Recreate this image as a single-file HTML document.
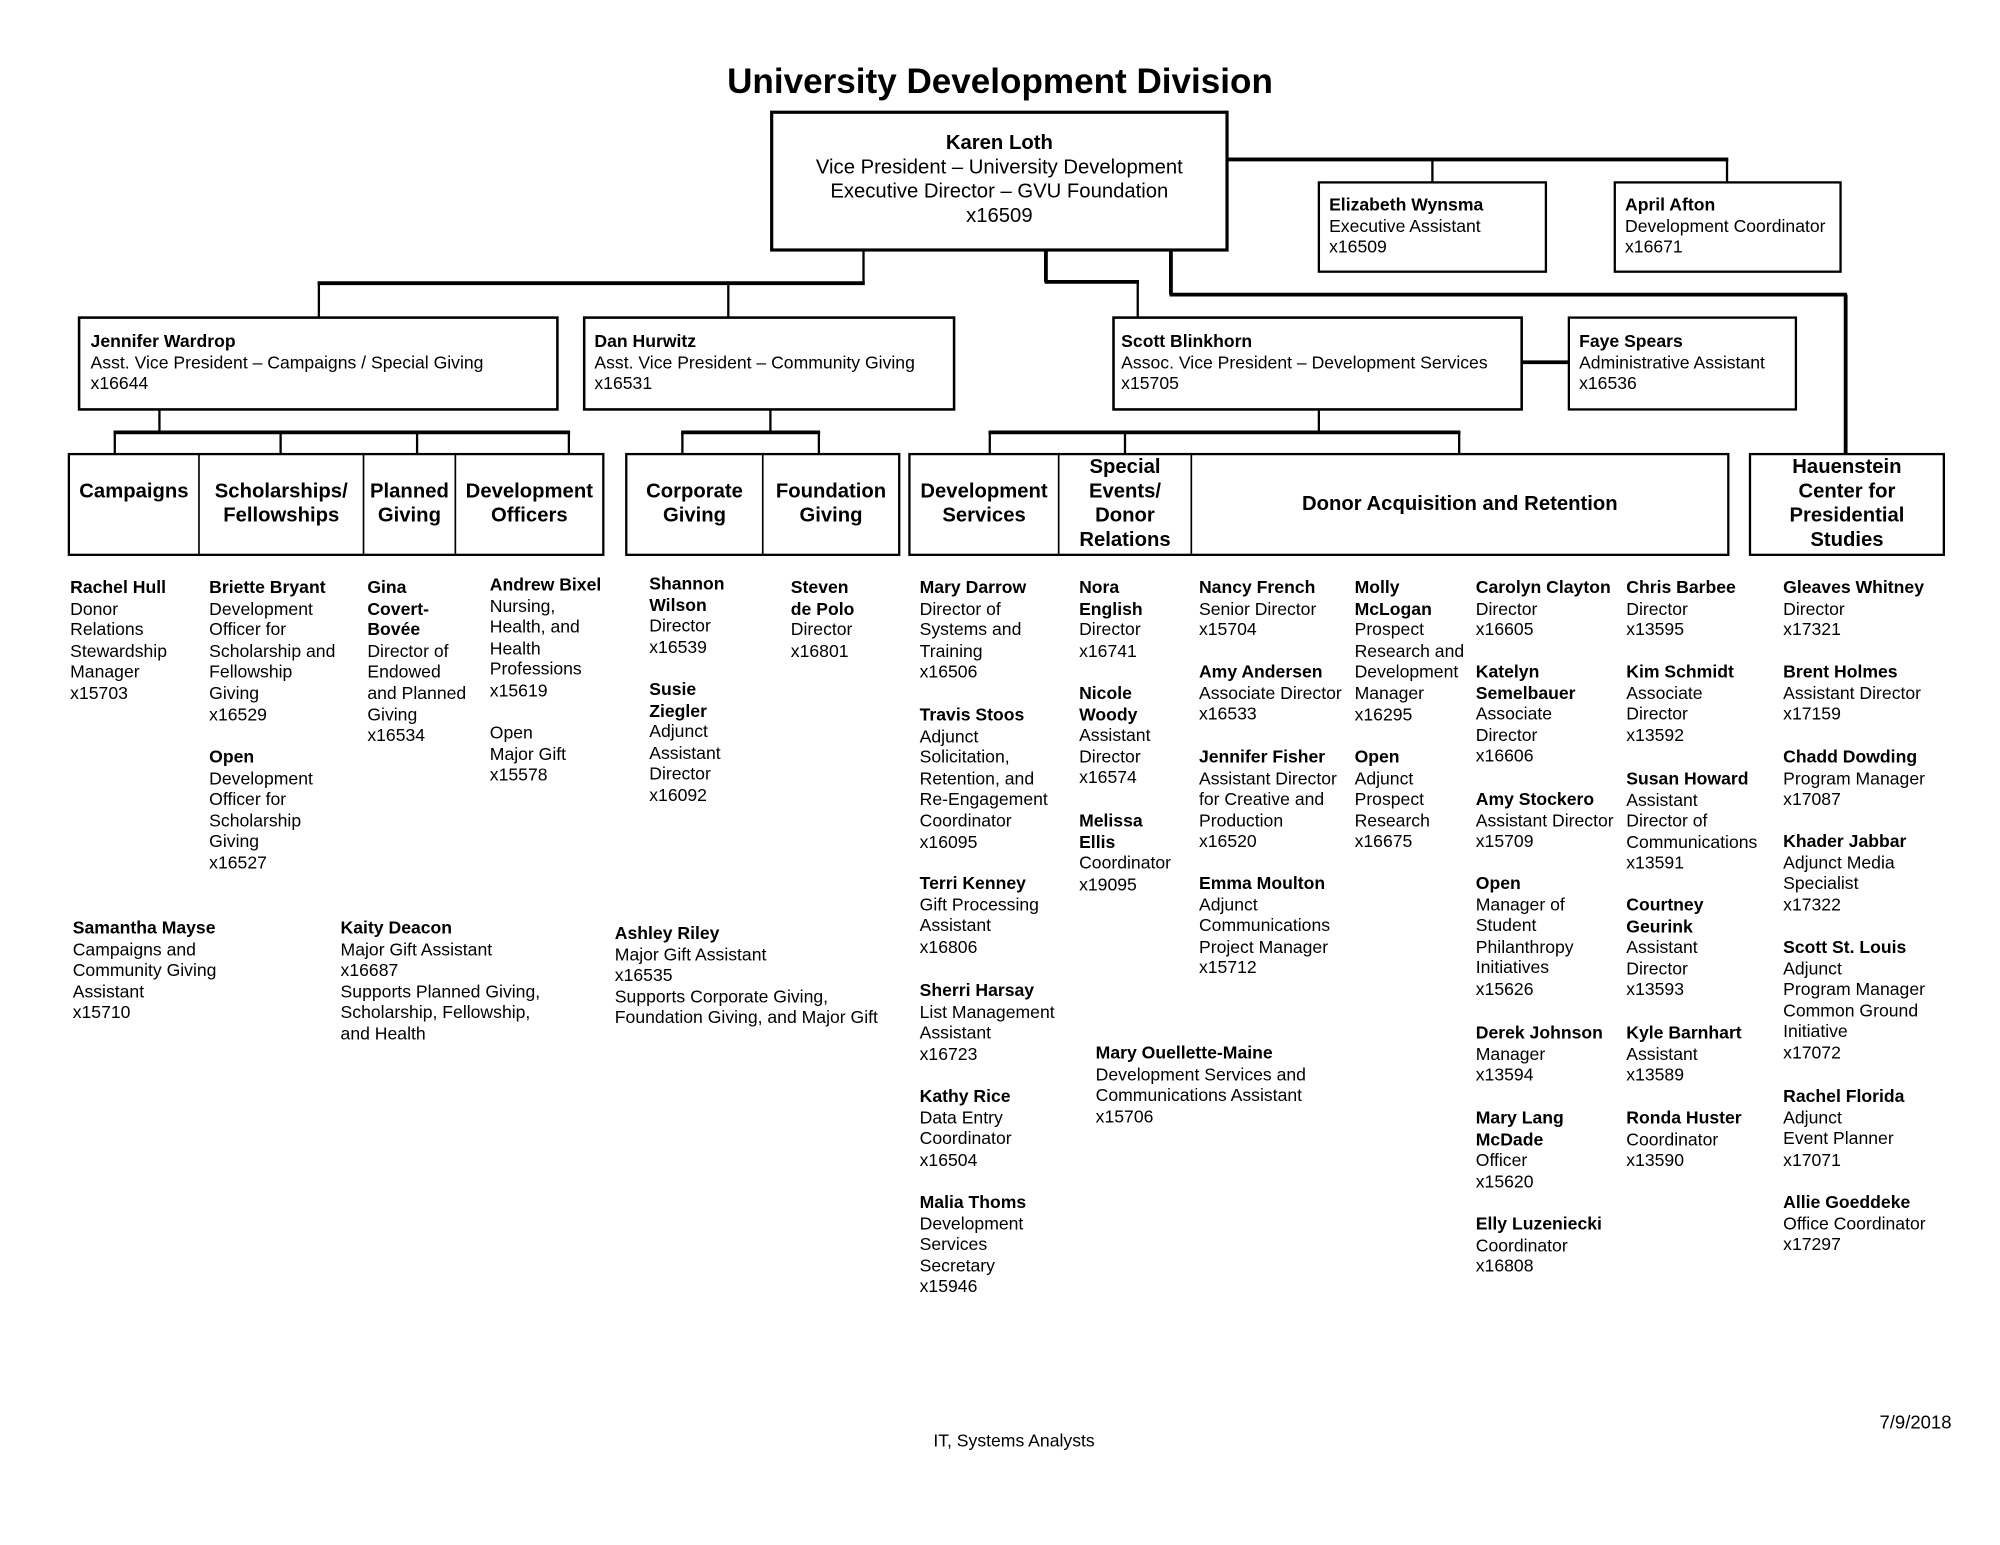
<!DOCTYPE html>
<html><head><meta charset="utf-8"><style>
html,body{margin:0;padding:0;background:#fff;}
body{width:2000px;height:1545px;overflow:hidden;position:relative;}
#s{position:absolute;left:0;top:0;width:1568px;height:1211px;transform:scale(1.2755);transform-origin:0 0;font-family:"Liberation Sans",Arial,sans-serif;color:#000;}
.t{position:absolute;font-size:13.8px;line-height:16.6px;white-space:nowrap;}
.h{position:absolute;font-size:15.9px;line-height:19px;font-weight:bold;text-align:center;white-space:nowrap;}
svg{position:absolute;left:0;top:0;}
</style></head><body><div id="s">
<svg width="1568" height="1211" viewBox="0 0 1568 1211">
<g fill="none" stroke="#000">
<rect x="605" y="88" width="357" height="108" stroke-width="2.5"/>
<rect x="1034" y="143" width="178" height="70" stroke-width="1.8"/>
<rect x="1266" y="143" width="177" height="70" stroke-width="1.8"/>
<rect x="62" y="249" width="375" height="72" stroke-width="2"/>
<rect x="458" y="249" width="290" height="72" stroke-width="2"/>
<rect x="873" y="249" width="320" height="72" stroke-width="2"/>
<rect x="1230" y="249" width="178" height="72" stroke-width="1.8"/>
<rect x="54" y="356" width="419" height="79" stroke-width="1.8"/>
<rect x="491" y="356" width="214" height="79" stroke-width="1.8"/>
<rect x="713" y="356" width="642" height="79" stroke-width="1.8"/>
<rect x="1372" y="356" width="152" height="79" stroke-width="1.8"/>
<g stroke-width="1.3">
<line x1="156" y1="356" x2="156" y2="435"/><line x1="285" y1="356" x2="285" y2="435"/><line x1="357" y1="356" x2="357" y2="435"/>
<line x1="598" y1="356" x2="598" y2="435"/>
<line x1="830" y1="356" x2="830" y2="435"/><line x1="934" y1="356" x2="934" y2="435"/>
</g>
<g stroke-width="3">
<line x1="962" y1="125" x2="1355" y2="125"/>
<line x1="249" y1="222" x2="678" y2="222"/>
<line x1="819" y1="221" x2="893" y2="221"/>
<line x1="917" y1="231" x2="1448" y2="231"/>
<line x1="1193" y1="284" x2="1230" y2="284"/>
<line x1="89" y1="339" x2="447" y2="339"/>
<line x1="534" y1="339" x2="643" y2="339"/>
<line x1="775" y1="339" x2="1145" y2="339"/>
<line x1="1447" y1="231" x2="1447" y2="356"/>
<line x1="820" y1="196" x2="820" y2="221"/>
<line x1="918" y1="196" x2="918" y2="231"/>
</g>
<g stroke-width="1.8">
<line x1="1123" y1="125" x2="1123" y2="143"/>
<line x1="1354" y1="125" x2="1354" y2="143"/>
<line x1="677" y1="196" x2="677" y2="222"/>
<line x1="250" y1="222" x2="250" y2="249"/>
<line x1="571" y1="222" x2="571" y2="249"/>
<line x1="892" y1="221" x2="892" y2="249"/>
<line x1="125" y1="321" x2="125" y2="339"/>
<line x1="604" y1="321" x2="604" y2="339"/>
<line x1="1034" y1="321" x2="1034" y2="339"/>
<line x1="90" y1="339" x2="90" y2="356"/><line x1="220" y1="339" x2="220" y2="356"/><line x1="327" y1="339" x2="327" y2="356"/><line x1="446" y1="339" x2="446" y2="356"/>
<line x1="535" y1="339" x2="535" y2="356"/><line x1="642" y1="339" x2="642" y2="356"/>
<line x1="776" y1="339" x2="776" y2="356"/><line x1="882" y1="339" x2="882" y2="356"/><line x1="1144" y1="339" x2="1144" y2="356"/>
</g>
</g>
</svg>

<div style="position:absolute;left:484px;width:600px;top:46px;text-align:center;font-size:27.5px;font-weight:bold;line-height:36px;">University Development Division</div>

<div style="position:absolute;left:605px;width:357px;top:103px;text-align:center;font-size:15.9px;line-height:19px;"><b>Karen Loth</b><br>Vice President – University Development<br>Executive Director – GVU Foundation<br>x16509</div>

<div class="t" style="left:1042px;top:153px"><b>Elizabeth Wynsma</b><br>Executive Assistant<br>x16509</div>
<div class="t" style="left:1274px;top:153px"><b>April Afton</b><br>Development Coordinator<br>x16671</div>
<div class="t" style="left:71px;top:260px"><b>Jennifer Wardrop</b><br>Asst. Vice President – Campaigns / Special Giving<br>x16644</div>
<div class="t" style="left:466px;top:260px"><b>Dan Hurwitz</b><br>Asst. Vice President – Community Giving<br>x16531</div>
<div class="t" style="left:879px;top:260px"><b>Scott Blinkhorn</b><br>Assoc. Vice President – Development Services<br>x15705</div>
<div class="t" style="left:1238px;top:260px"><b>Faye Spears</b><br>Administrative Assistant<br>x16536</div>

<div class="h" style="left:54px;width:102px;top:376px">Campaigns</div>
<div class="h" style="left:156px;width:129px;top:376px">Scholarships/<br>Fellowships</div>
<div class="h" style="left:285px;width:72px;top:376px">Planned<br>Giving</div>
<div class="h" style="left:357px;width:116px;top:376px">Development<br>Officers</div>
<div class="h" style="left:491px;width:107px;top:376px">Corporate<br>Giving</div>
<div class="h" style="left:598px;width:107px;top:376px">Foundation<br>Giving</div>
<div class="h" style="left:713px;width:117px;top:376px">Development<br>Services</div>
<div class="h" style="left:830px;width:104px;top:357px">Special<br>Events/<br>Donor<br>Relations</div>
<div class="h" style="left:934px;width:421px;top:386px">Donor Acquisition and Retention</div>
<div class="h" style="left:1372px;width:152px;top:357px">Hauenstein<br>Center for<br>Presidential<br>Studies</div>

<div class="t" style="left:55px;top:453px"><b>Rachel Hull</b><br>Donor<br>Relations<br>Stewardship<br>Manager<br>x15703</div>
<div class="t" style="left:164px;top:453px"><b>Briette Bryant</b><br>Development<br>Officer for<br>Scholarship and<br>Fellowship<br>Giving<br>x16529</div>
<div class="t" style="left:164px;top:586px"><b>Open</b><br>Development<br>Officer for<br>Scholarship<br>Giving<br>x16527</div>
<div class="t" style="left:288px;top:453px"><b>Gina<br>Covert-<br>Bovée</b><br>Director of<br>Endowed<br>and Planned<br>Giving<br>x16534</div>
<div class="t" style="left:384px;top:451px"><b>Andrew Bixel</b><br>Nursing,<br>Health, and<br>Health<br>Professions<br>x15619</div>
<div class="t" style="left:384px;top:567px">Open<br>Major Gift<br>x15578</div>
<div class="t" style="left:509px;top:450px"><b>Shannon<br>Wilson</b><br>Director<br>x16539</div>
<div class="t" style="left:509px;top:533px"><b>Susie<br>Ziegler</b><br>Adjunct<br>Assistant<br>Director<br>x16092</div>
<div class="t" style="left:620px;top:453px"><b>Steven<br>de Polo</b><br>Director<br>x16801</div>

<div class="t" style="left:721px;top:453px"><b>Mary Darrow</b><br>Director of<br>Systems and<br>Training<br>x16506</div>
<div class="t" style="left:721px;top:553px"><b>Travis Stoos</b><br>Adjunct<br>Solicitation,<br>Retention, and<br>Re-Engagement<br>Coordinator<br>x16095</div>
<div class="t" style="left:721px;top:685px"><b>Terri Kenney</b><br>Gift Processing<br>Assistant<br>x16806</div>
<div class="t" style="left:721px;top:769px"><b>Sherri Harsay</b><br>List Management<br>Assistant<br>x16723</div>
<div class="t" style="left:721px;top:852px"><b>Kathy Rice</b><br>Data Entry<br>Coordinator<br>x16504</div>
<div class="t" style="left:721px;top:935px"><b>Malia Thoms</b><br>Development<br>Services<br>Secretary<br>x15946</div>

<div class="t" style="left:846px;top:453px"><b>Nora<br>English</b><br>Director<br>x16741</div>
<div class="t" style="left:846px;top:536px"><b>Nicole<br>Woody</b><br>Assistant<br>Director<br>x16574</div>
<div class="t" style="left:846px;top:636px"><b>Melissa<br>Ellis</b><br>Coordinator<br>x19095</div>
<div class="t" style="left:859px;top:818px"><b>Mary Ouellette-Maine</b><br>Development Services and<br>Communications Assistant<br>x15706</div>

<div class="t" style="left:940px;top:453px"><b>Nancy French</b><br>Senior Director<br>x15704</div>
<div class="t" style="left:940px;top:519px"><b>Amy Andersen</b><br>Associate Director<br>x16533</div>
<div class="t" style="left:940px;top:586px"><b>Jennifer Fisher</b><br>Assistant Director<br>for Creative and<br>Production<br>x16520</div>
<div class="t" style="left:940px;top:685px"><b>Emma Moulton</b><br>Adjunct<br>Communications<br>Project Manager<br>x15712</div>

<div class="t" style="left:1062px;top:453px"><b>Molly<br>McLogan</b><br>Prospect<br>Research and<br>Development<br>Manager<br>x16295</div>
<div class="t" style="left:1062px;top:586px"><b>Open</b><br>Adjunct<br>Prospect<br>Research<br>x16675</div>

<div class="t" style="left:1157px;top:453px"><b>Carolyn Clayton</b><br>Director<br>x16605</div>
<div class="t" style="left:1157px;top:519px"><b>Katelyn<br>Semelbauer</b><br>Associate<br>Director<br>x16606</div>
<div class="t" style="left:1157px;top:619px"><b>Amy Stockero</b><br>Assistant Director<br>x15709</div>
<div class="t" style="left:1157px;top:685px"><b>Open</b><br>Manager of<br>Student<br>Philanthropy<br>Initiatives<br>x15626</div>
<div class="t" style="left:1157px;top:802px"><b>Derek Johnson</b><br>Manager<br>x13594</div>
<div class="t" style="left:1157px;top:869px"><b>Mary Lang<br>McDade</b><br>Officer<br>x15620</div>
<div class="t" style="left:1157px;top:952px"><b>Elly Luzeniecki</b><br>Coordinator<br>x16808</div>

<div class="t" style="left:1275px;top:453px"><b>Chris Barbee</b><br>Director<br>x13595</div>
<div class="t" style="left:1275px;top:519px"><b>Kim Schmidt</b><br>Associate<br>Director<br>x13592</div>
<div class="t" style="left:1275px;top:603px"><b>Susan Howard</b><br>Assistant<br>Director of<br>Communications<br>x13591</div>
<div class="t" style="left:1275px;top:702px"><b>Courtney<br>Geurink</b><br>Assistant<br>Director<br>x13593</div>
<div class="t" style="left:1275px;top:802px"><b>Kyle Barnhart</b><br>Assistant<br>x13589</div>
<div class="t" style="left:1275px;top:869px"><b>Ronda Huster</b><br>Coordinator<br>x13590</div>

<div class="t" style="left:1398px;top:453px"><b>Gleaves Whitney</b><br>Director<br>x17321</div>
<div class="t" style="left:1398px;top:519px"><b>Brent Holmes</b><br>Assistant Director<br>x17159</div>
<div class="t" style="left:1398px;top:586px"><b>Chadd Dowding</b><br>Program Manager<br>x17087</div>
<div class="t" style="left:1398px;top:652px"><b>Khader Jabbar</b><br>Adjunct Media<br>Specialist<br>x17322</div>
<div class="t" style="left:1398px;top:735px"><b>Scott St. Louis</b><br>Adjunct<br>Program Manager<br>Common Ground<br>Initiative<br>x17072</div>
<div class="t" style="left:1398px;top:852px"><b>Rachel Florida</b><br>Adjunct<br>Event Planner<br>x17071</div>
<div class="t" style="left:1398px;top:935px"><b>Allie Goeddeke</b><br>Office Coordinator<br>x17297</div>

<div class="t" style="left:57px;top:720px"><b>Samantha Mayse</b><br>Campaigns and<br>Community Giving<br>Assistant<br>x15710</div>
<div class="t" style="left:267px;top:720px"><b>Kaity Deacon</b><br>Major Gift Assistant<br>x16687<br>Supports Planned Giving,<br>Scholarship, Fellowship,<br>and Health</div>
<div class="t" style="left:482px;top:724px"><b>Ashley Riley</b><br>Major Gift Assistant<br>x16535<br>Supports Corporate Giving,<br>Foundation Giving, and Major Gift</div>

<div class="t" style="left:695px;width:200px;text-align:center;top:1122px">IT, Systems Analysts</div>
<div class="t" style="left:1430px;width:100px;text-align:right;top:1108px;font-size:14.5px">7/9/2018</div>
</div></body></html>
